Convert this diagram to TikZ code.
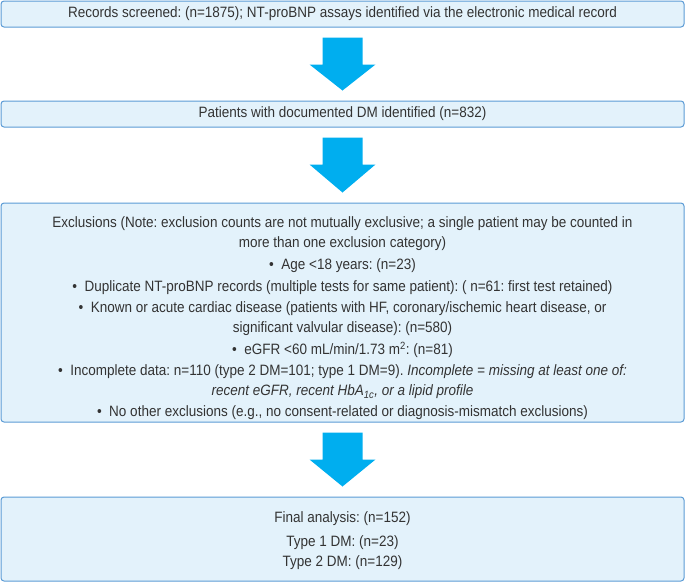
\documentclass[tikz,border=0pt]{standalone}
\usepackage{fontspec}
\setmainfont{Liberation Sans}[FakeStretch=0.9]
\usetikzlibrary{calc}
\definecolor{boxfill}{HTML}{E3F2FB}
\definecolor{boxline}{HTML}{5B9BD5}
\definecolor{arrowc}{HTML}{00AEEF}
\definecolor{txt}{HTML}{333333}
\begin{document}
\frenchspacing
\begin{tikzpicture}[x=1pt,y=-1pt,
  box/.style={draw=boxline,fill=boxfill,line width=1pt,rounded corners=3pt,minimum width=683pt,inner sep=0pt},
  line/.style={text=txt,font=\fontsize{15}{18}\selectfont,inner sep=0pt,anchor=center},
  bigarrow/.style={fill=arrowc}]
\useasboundingbox (0,0) rectangle (685,582);
\node[box,minimum height=26pt] (b1) at (342.5,14) {};
\node[box,minimum height=26pt] (b2) at (342.5,114) {};
\node[box,minimum height=219pt] (b3) at (342.5,312.5) {};
\node[box,minimum height=84pt] (b4) at (342.5,539) {};
\node[line] (t1) at (342.5,14) {Records screened: (n=1875); NT-proBNP assays identified via the electronic medical record};
\node[line] (t2) at (342.5,114) {Patients with documented DM identified (n=832)};
\node[line] (e1) at (342.5,224) {Exclusions (Note: exclusion counts are not mutually exclusive; a single patient may be counted in};
\node[line] (e2) at (342.5,244) {more than one exclusion category)};
\node[line] (e3) at (342.5,266) {\textbullet\ \ Age <18 years: (n=23)};
\node[line] (e4) at (342.5,288) {\textbullet\ \ Duplicate NT-proBNP records (multiple tests for same patient): ( n=61: first test retained)};
\node[line] (e5) at (342.5,309) {\textbullet\ \ Known or acute cardiac disease (patients with HF, coronary/ischemic heart disease, or};
\node[line] (e6) at (342.5,329) {significant valvular disease): (n=580)};
\node[line] (e7) at (342.5,350) {\textbullet\ \ eGFR <60 mL/min/1.73 m\textsuperscript{2}: (n=81)};
\node[line] (e8) at (342.5,372) {\textbullet\ \ Incomplete data: n=110 (type 2 DM=101; type 1 DM=9). \textit{Incomplete = missing at least one of:}};
\node[line] (e9) at (342.5,392) {\textit{recent eGFR, recent HbA\textsubscript{1c}, or a lipid profile}};
\node[line] (e10) at (342.5,413) {\textbullet\ \ No other exclusions (e.g., no consent-related or diagnosis-mismatch exclusions)};
\node[line] (f1) at (342.5,519) {Final analysis: (n=152)};
\node[line] (f2) at (342.5,543) {Type 1 DM: (n=23)};
\node[line] (f3) at (342.5,563) {Type 2 DM: (n=129)};
\foreach \a/\b in {b1/b2,b2/b3,b3/b4}{
  \fill[bigarrow] ($(\a.south)+(-20,10)$) -- ($(\a.south)+(20,10)$) -- ($(\a.south)+(20,37)$)
    -- ($(\a.south)+(33,37)$) -- ($(\b.north)+(0,-10)$) -- ($(\a.south)+(-33,37)$)
    -- ($(\a.south)+(-20,37)$) -- cycle;
}
\end{tikzpicture}
\end{document}
